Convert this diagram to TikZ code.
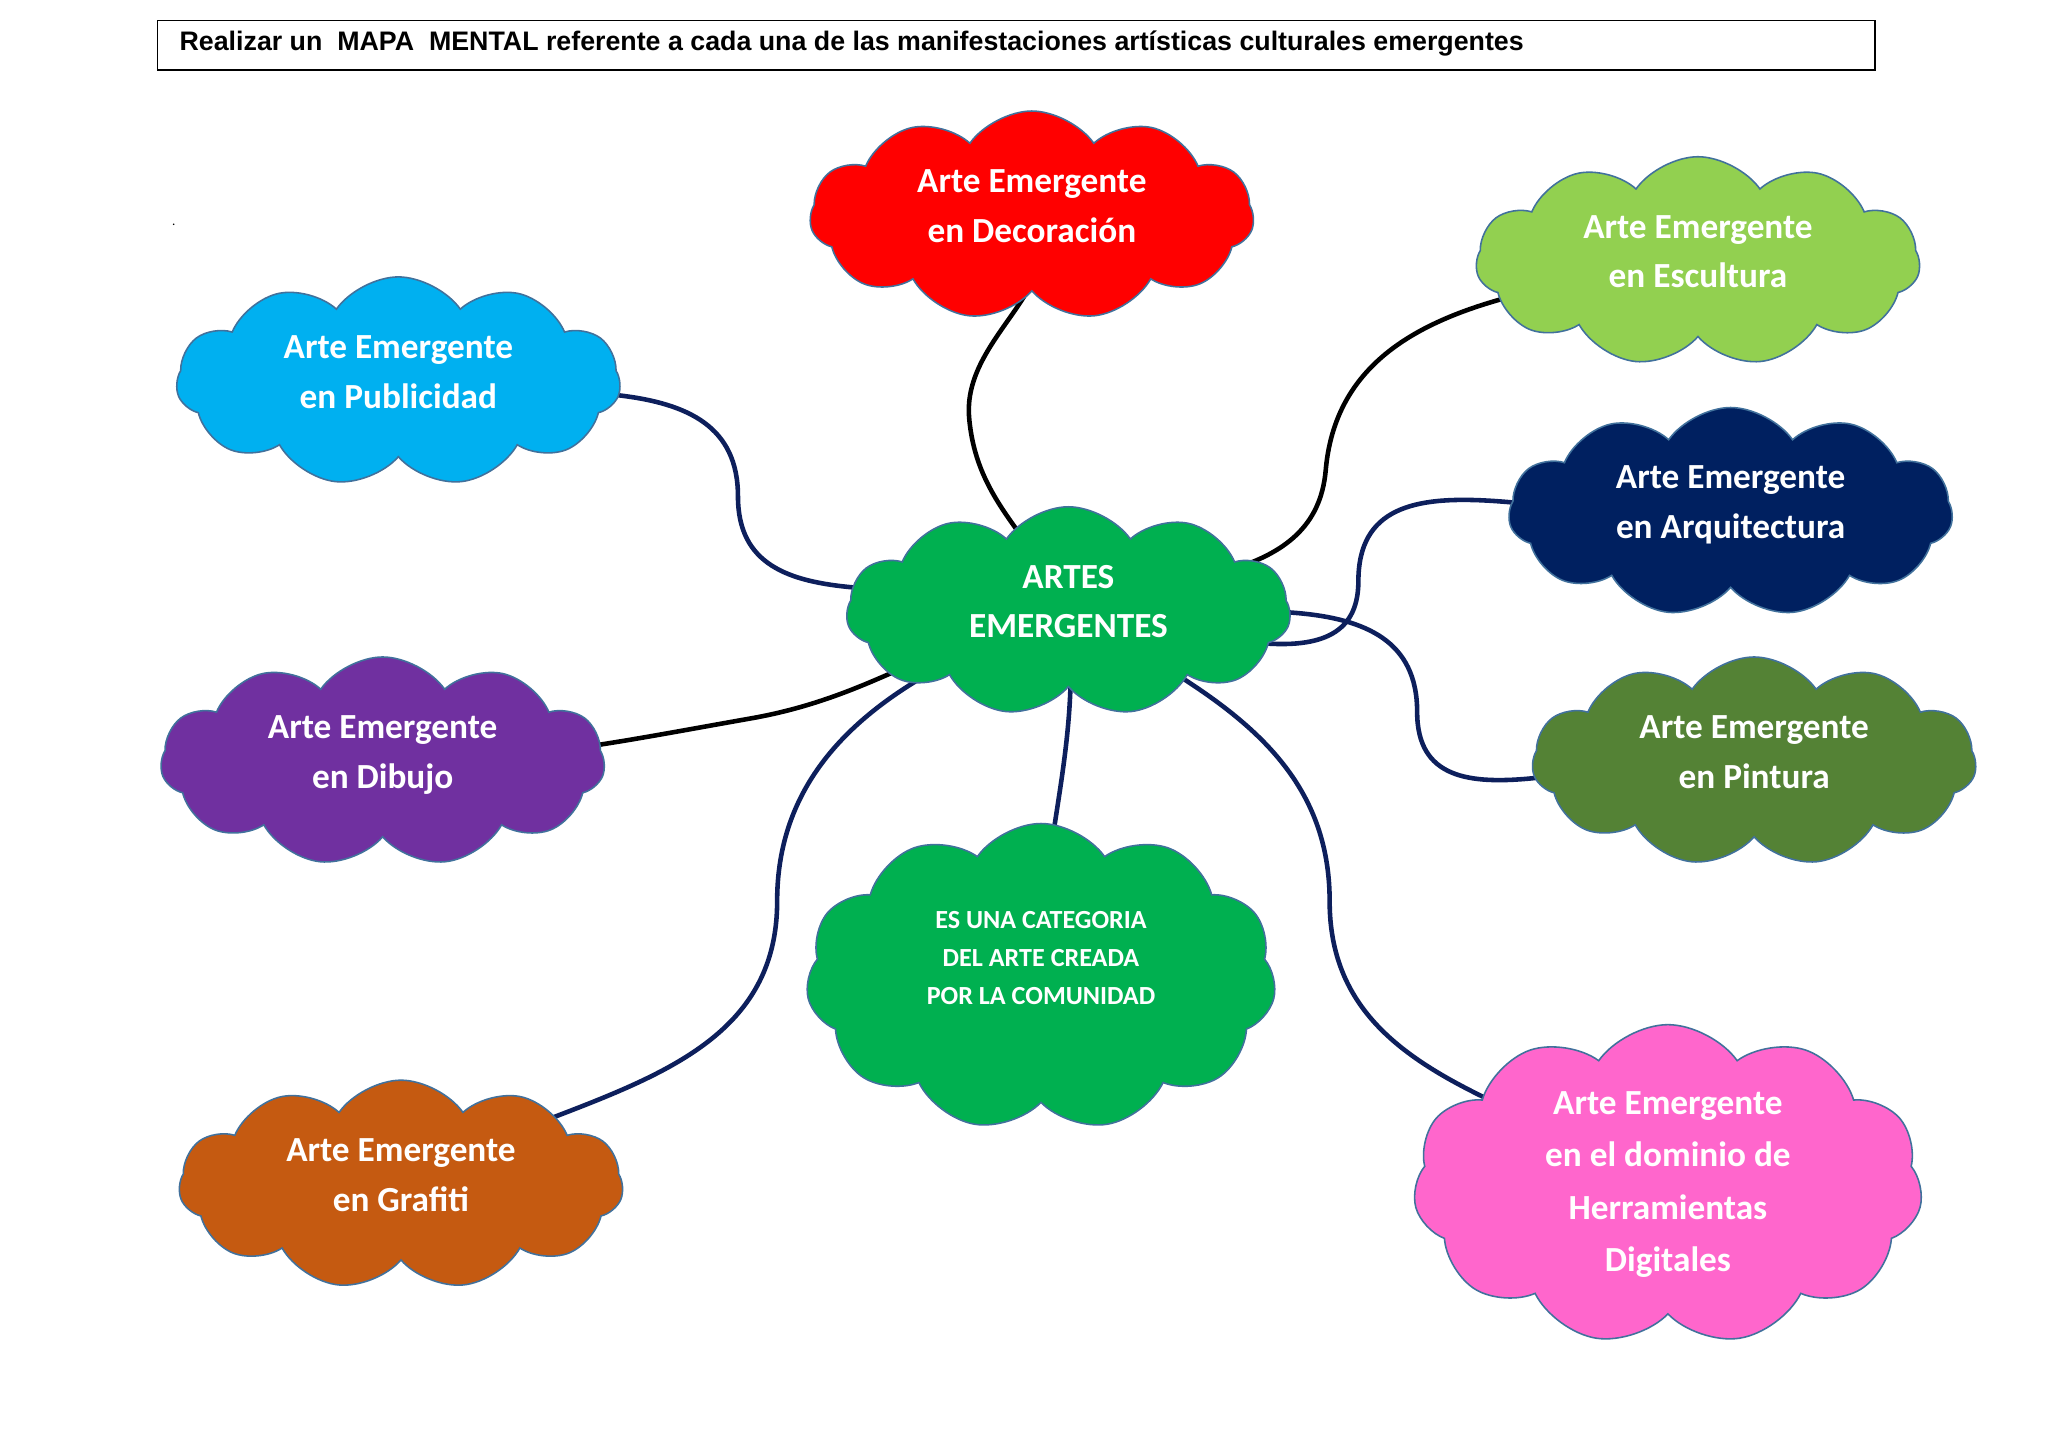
\documentclass[tikz,border=0pt]{standalone}
\usepackage{fontspec}
\setmainfont{Carlito}
\newfontfamily\arialf{Liberation Sans}
\usetikzlibrary{shapes.symbols}
\pgfdeclarelayer{bg}\pgfdeclarelayer{paper}\pgfsetlayers{paper,bg,main}
\definecolor{outl}{HTML}{41719C}
\definecolor{navy}{HTML}{0D1F5C}
\definecolor{cred}{HTML}{FF0000}
\definecolor{cesc}{HTML}{92D050}
\definecolor{cpub}{HTML}{00B0F0}
\definecolor{carq}{HTML}{002060}
\definecolor{cgrn}{HTML}{00B050}
\definecolor{cdib}{HTML}{7030A0}
\definecolor{cpin}{HTML}{548235}
\definecolor{cgra}{HTML}{C55A11}
\definecolor{cdig}{HTML}{FF66CC}
\newcommand{\up}[1]{\raisebox{0pt}[0pt][0pt]{\begin{tabular}{@{}c@{}}#1\end{tabular}}}
\tikzset{
 cl/.style={cloud, cloud puffs=11, cloud puff arc=110, aspect=2.1, draw=outl, line width=1.2pt,
   fill=#1, text=white, font=\bfseries\fontsize{27}{38}\selectfont, align=center, inner sep=0pt,
   minimum width=340pt, minimum height=160pt},
 con/.style={line width=3.5pt, draw=navy},
 conb/.style={line width=3.5pt, draw=black}
}
\begin{document}
\begin{tikzpicture}[x=1pt,y=-1pt]
\useasboundingbox (0,0) rectangle (1568,1108);
\begin{pgfonlayer}{paper}
\fill[white] (0,0) rectangle (1568,1108);
\end{pgfonlayer}
\node[draw=black, line width=1pt, minimum width=1315pt, minimum height=38pt, anchor=north west, inner sep=0pt] (title) at (120,15) {};
\node[anchor=west, font=\arialf\bfseries\fontsize{20.5}{22}\selectfont] (tt) at (134,33) {Realizar un \ MAPA \ MENTAL referente a cada una de las manifestaciones artísticas culturales emergentes};
\node[font=\fontsize{10}{10}\selectfont] (dot) at (133,172) {.};

\node[cl=cred] (dec) at (790,165) {\up{Arte Emergente\\en Decoración}};
\node[cl=cesc] (esc) at (1300,200) {\up{Arte Emergente\\en Escultura}};
\node[cl=cpub] (pub) at (305,292) {\up{Arte Emergente\\en Publicidad}};
\node[cl=carq] (arq) at (1325,392) {\up{Arte Emergente\\en Arquitectura}};
\node[cl=cgrn] (c) at (818,468) {\up{ARTES\\EMERGENTES}};
\node[cl=cdib] (dib) at (293,583) {\up{Arte Emergente\\en Dibujo}};
\node[cl=cpin] (pin) at (1343,583) {\up{Arte Emergente\\en Pintura}};
\node[cl=cgrn, minimum width=360pt, minimum height=235pt, aspect=1.5, font=\bfseries\fontsize{20}{29}\selectfont] (def) at (797,748) {ES UNA CATEGORIA\\DEL ARTE CREADA\\POR LA COMUNIDAD\\[0pt]};
\node[cl=cgra] (gra) at (307,907) {\up{Arte Emergente\\en Grafiti}};
\node[cl=cdig, minimum width=390pt, minimum height=245pt, aspect=1.6, font=\bfseries\fontsize{27}{40}\selectfont] (dig) at (1277,907) {Arte Emergente\\en el dominio de\\Herramientas\\Digitales};

\begin{pgfonlayer}{bg}
\draw[conb] (c.center) to[out=115,in=-85] (742,320) to[out=95,in=-60] (dec.center);
\draw[conb] (c.center) to[out=20,in=-95] (1015,360) to[out=85,in=190] (esc.center);
\draw[con] (pub.center) to[out=-10,in=90] (565,380) to[out=-90,in=160] (c.center);
\draw[con] (c.center) to[out=-5,in=-90] (1040,445) to[out=90,in=190] (arq.center);
\draw[conb] (dib.center) to[out=0,in=190] (575,550) to[out=10,in=190] (c.center);
\draw[con] (c.center) to[out=-5,in=90] (1085,545) to[out=-90,in=170] (pin.center);
\draw[con] (c.center) to[out=-85,in=90] (def.center);
\draw[con] (c.center) to[out=200,in=90] (595,690) to[out=-90,in=30] (gra.center);
\draw[con] (c.center) to[out=-30,in=90] (1018,690) to[out=-90,in=150] (dig.center);
\end{pgfonlayer}
\end{tikzpicture}
\end{document}
